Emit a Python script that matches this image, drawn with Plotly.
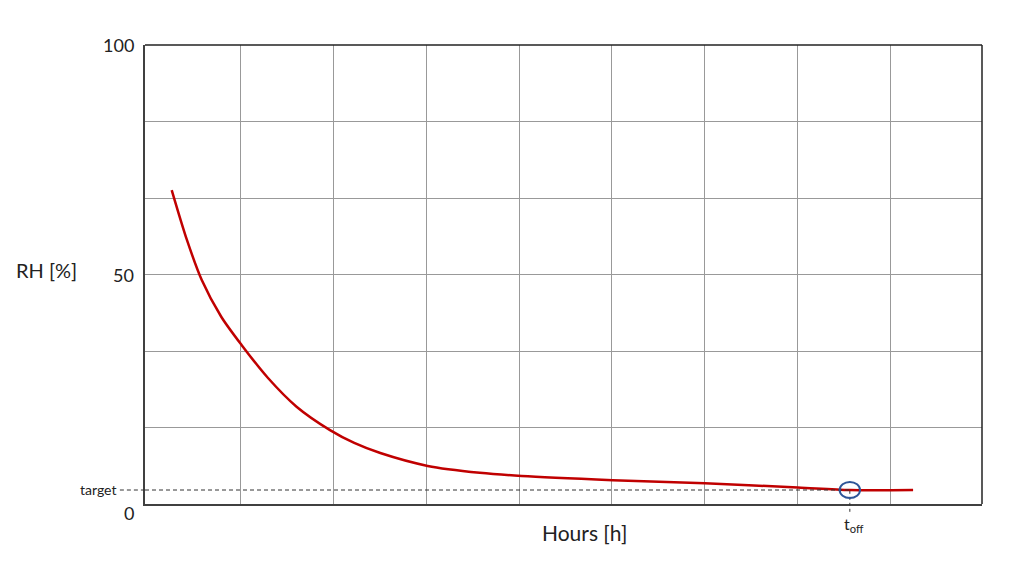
import plotly.graph_objects as go

# Data
hours = [0.253, 0.416, 0.577, 0.787, 1.008, 1.289, 1.599, 1.960, 2.221, 2.502, 3.013, 3.575,
         4.026, 5.009, 6.001, 7.004, 7.565, 8.247]
rh = [68.4, 57.6, 48.8, 40.8, 34.6, 27.5, 21.2, 16.1, 13.3, 11.1, 8.3, 6.8,
      6.1, 5.2, 4.5, 3.6, 3.05, 3.05]
target = 3.05
t_off = 7.565
y_grid = [0, 100/6, 200/6, 50, 400/6, 500/6, 100]
x_grid = [1, 2, 3, 4, 5, 6, 7, 8]
y_labels = [("100", 100), ("50", 50), ("0", 0)]

FONT = "Lato, 'Open Sans', sans-serif"

fig = go.Figure()
fig.add_trace(go.Scatter(x=hours, y=rh, mode="lines",
                         line=dict(color="#C00000", width=2.5, shape="spline", smoothing=0.8),
                         hoverinfo="skip", showlegend=False))

fig.update_layout(
    width=1010, height=550,
    margin=dict(l=137, r=36, t=37, b=54),
    paper_bgcolor="white", plot_bgcolor="white",
    font=dict(family=FONT, color="#222"),
    xaxis=dict(range=[-0.035, 8.99], tickvals=x_grid, showticklabels=False, ticks="",
               showgrid=True, gridcolor="#999", gridwidth=1, zeroline=False,
               showline=True, linecolor="#404040", linewidth=2, mirror=False, fixedrange=True),
    yaxis=dict(range=[0, 100], tickvals=y_grid, showticklabels=False, ticks="",
               showgrid=True, gridcolor="#999", gridwidth=1, zeroline=False,
               showline=True, linecolor="#404040", linewidth=2, mirror=False, fixedrange=True),
)

shapes = [
    # top and right border
    dict(type="line", xref="paper", yref="paper", x0=0, x1=1, y0=1, y1=1, line=dict(color="#222", width=1.5)),
    dict(type="line", xref="paper", yref="paper", x0=1, x1=1, y0=0, y1=1, line=dict(color="#222", width=1.5)),
    # target dashed line
    dict(type="line", xref="paper", yref="y", x0=-0.03, x1=0, y0=target, y1=target,
         line=dict(color="#333", width=1, dash="4px,3px")),
    dict(type="line", xref="x", yref="y", x0=-0.035, x1=t_off, y0=target, y1=target,
         line=dict(color="#333", width=1, dash="4px,3px")),
    # vertical dashed at t_off
    dict(type="line", xref="x", yref="paper", x0=t_off, x1=t_off, y0=-0.017, y1=target / 100,
         line=dict(color="#333", width=1, dash="3px,3px")),
    # circle
    dict(type="circle", xref="x", yref="y", x0=t_off - 0.11, x1=t_off + 0.11,
         y0=target - 1.75, y1=target + 1.75, line=dict(color="#2F5597", width=2)),
]
fig.update_layout(shapes=shapes)

ann = []
for txt, v in y_labels:
    yshift = -9 if v == 0 else 0
    ann.append(dict(x=0, y=v, xref="paper", yref="y", text=txt, showarrow=False,
                    xanchor="right", xshift=-9, yshift=yshift, font=dict(size=18, family=FONT, color="#222")))
ann.append(dict(x=-0.157, y=50, xref="paper", yref="y", text="RH [%]", showarrow=False,
                xanchor="left", yshift=5, font=dict(size=20, family=FONT, color="#222")))
ann.append(dict(x=0.525, y=-0.062, xref="paper", yref="paper", text="Hours [h]", showarrow=False,
                xanchor="center", yanchor="middle", font=dict(size=21, family=FONT, color="#222")))
ann.append(dict(x=0, y=target, xref="paper", yref="y", text="target", showarrow=False,
                xanchor="right", xshift=-27, yshift=1, font=dict(size=14, family=FONT, color="#222")))
ann.append(dict(x=t_off, y=-0.045, xref="x", yref="paper", text="t<sub>off</sub>", showarrow=False,
                xanchor="center", yanchor="middle", xshift=4, font=dict(size=16, family=FONT, color="#222")))
fig.update_layout(annotations=ann)

fig.write_html("out.html")
